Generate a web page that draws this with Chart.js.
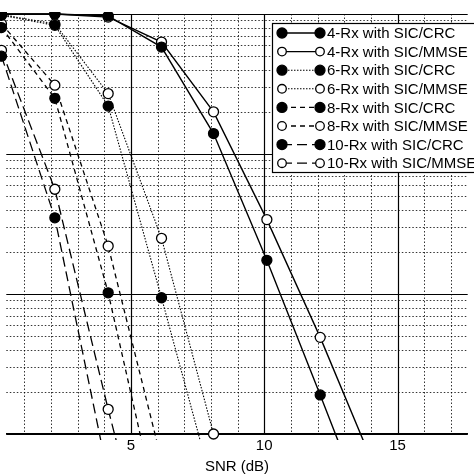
<!DOCTYPE html>
<html><head><meta charset="utf-8">
<script src="https://cdn.jsdelivr.net/npm/chart.js@4"></script>
<style>html,body{margin:0;padding:0;background:#fff}#w{width:474px;height:474px}</style>
</head><body><div id="w"><canvas id="c"></canvas></div>
<script>
const snr = [0.15, 2.15, 4.15, 6.15, 8.1, 10.1, 12.1, 14.1];
const rx4Crc  = [1.0, 1.0, 0.97, 0.58, 0.14, 0.0174, 0.0019, 0.0002];
const rx4Mmse = [1.0, 1.0, 0.95, 0.63, 0.2, 0.034, 0.0049, 0.0006];
const rx6Crc  = [0.98, 0.83, 0.22, 0.0094, 0.0004];
const rx6Mmse = [0.99, 0.85, 0.27, 0.025, 0.001];
const rx8Crc  = [0.8, 0.25, 0.0102, 0.00021];
const rx8Mmse = [0.85, 0.31, 0.022, 0.00065];
const rx10Crc  = [0.5, 0.035, 0.0005];
const rx10Mmse = [0.55, 0.056, 0.0015, 0.00005];
const xTicks = [5, 10, 15];
const labels = ['4-Rx with SIC/CRC','4-Rx with SIC/MMSE','6-Rx with SIC/CRC','6-Rx with SIC/MMSE','8-Rx with SIC/CRC','8-Rx with SIC/MMSE','10-Rx with SIC/CRC','10-Rx with SIC/MMSE'];

const series = [rx4Crc, rx4Mmse, rx6Crc, rx6Mmse, rx8Crc, rx8Mmse, rx10Crc, rx10Mmse];
const dashes = [[], [], [1.5,1.5], [1.5,1.5], [5,4], [5,4], [10,5], [10,5]];
const widths = [1.4, 1.4, 1.1, 1.1, 1.3, 1.3, 1.3, 1.3];
const datasets = series.map((s, i) => ({
  label: labels[i],
  data: s.map((v, j) => ({x: snr[j], y: v})),
  borderColor: '#000', borderWidth: widths[i], borderDash: dashes[i],
  pointRadius: 5, pointBorderWidth: 1.3, pointBorderColor: '#000',
  pointBackgroundColor: i % 2 === 0 ? '#000' : '#fff',
  tension: 0, clip: {left: 20, top: 2, right: 0, bottom: 6}
}));

const gridPlugin = {
  id: 'grid',
  beforeDatasetsDraw(chart) {
    const {ctx, chartArea: a, scales: {x, y}} = chart;
    ctx.save();
    ctx.strokeStyle = '#000';
    for (let v = 1; v <= 17; v++) {
      const px = Math.round(x.getPixelForValue(v)) + 0.5;
      const major = v % 5 === 0;
      ctx.lineWidth = major ? 1.2 : 0.8;
      ctx.setLineDash(major ? [] : [1.5, 2]);
      ctx.beginPath(); ctx.moveTo(px, a.top); ctx.lineTo(px, a.bottom); ctx.stroke();
    }
    for (let e = -3; e <= 0; e++) {
      for (let m = 1; m <= 9; m++) {
        const v = m * Math.pow(10, e);
        if (v > 1) continue;
        const py = Math.round(y.getPixelForValue(v)) + 0.5;
        const major = m === 1;
        ctx.lineWidth = major ? 1.2 : 0.8;
        ctx.setLineDash(major ? [] : [1.5, 2]);
        ctx.beginPath(); ctx.moveTo(a.left, py); ctx.lineTo(a.right, py); ctx.stroke();
      }
    }
    ctx.restore();
  },
  afterDraw(chart) {
    const {ctx} = chart;
    ctx.save();
    const bx = 272, by = 23, rowH = 18.6;
    ctx.fillStyle = '#fff';
    ctx.fillRect(bx, by, 474 - bx, 150);
    ctx.strokeStyle = '#000'; ctx.lineWidth = 1.2; ctx.setLineDash([]);
    ctx.strokeRect(bx + 0.5, by + 0.5, 480 - bx, 149);
    ctx.font = '15px "Liberation Sans", Arial, sans-serif';
    ctx.textBaseline = 'middle';
    chart.data.datasets.forEach((d, i) => {
      const cy = by + 10 + i * rowH;
      const x1 = 282, x2 = 320;
      ctx.lineWidth = d.borderWidth; ctx.setLineDash(d.borderDash);
      ctx.beginPath(); ctx.moveTo(x1, cy); ctx.lineTo(x2, cy); ctx.stroke();
      ctx.setLineDash([]); ctx.lineWidth = 1.3;
      [x1, x2].forEach(px => {
        ctx.beginPath(); ctx.arc(px, cy, i % 2 === 0 ? 5 : 4.3, 0, 2 * Math.PI);
        ctx.fillStyle = d.pointBackgroundColor; ctx.fill(); ctx.stroke();
      });
      ctx.fillStyle = '#000';
      ctx.fillText(d.label, 327, cy + 1);
    });
    ctx.restore();
  }
};

new Chart(document.getElementById('c'), {
  type: 'line',
  data: {datasets},
  options: {
    responsive: true, maintainAspectRatio: false, animation: false,
    layout: {padding: {top: 14, left: 0, right: 0, bottom: -2}},
    plugins: {legend: {display: false}, tooltip: {enabled: false}},
    scales: {
      x: {
        type: 'linear', min: 0.33, max: 17.63,
        afterBuildTicks: s => { s.ticks = xTicks.map(v => ({value: v})); },
        grid: {display: false, drawTicks: false},
        border: {display: true, color: '#000', width: 1.5},
        ticks: {color: '#000', padding: 3, font: {size: 15, family: '"Liberation Sans", Arial'}},
        title: {display: true, text: 'SNR (dB)', color: '#000', padding: {top: 0, bottom: 0}, font: {size: 15, family: '"Liberation Sans", Arial'}}
      },
      y: {
        type: 'logarithmic', min: 0.001, max: 1, display: false
      }
    }
  },
  plugins: [gridPlugin]
});
</script></body></html>
